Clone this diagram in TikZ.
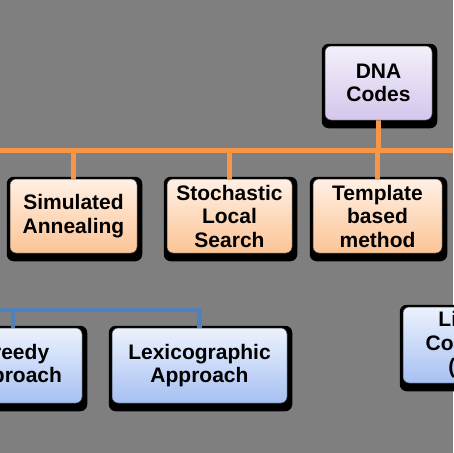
\documentclass[tikz,border=0pt]{standalone}
\usepackage{fontspec}
\setmainfont{Liberation Sans}
\pgfdeclarelayer{back}
\pgfdeclarelayer{mid}
\pgfsetlayers{back,mid,main}
\definecolor{bggray}{RGB}{127,127,127}
\definecolor{orline}{RGB}{247,150,70}
\definecolor{blline}{RGB}{79,129,189}
\definecolor{dnatop}{RGB}{243,239,250}
\definecolor{dnabot}{RGB}{212,198,236}
\definecolor{ortop}{RGB}{255,240,228}
\definecolor{orbot}{RGB}{252,196,150}
\definecolor{bltop}{RGB}{236,242,253}
\definecolor{blbot}{RGB}{166,192,242}
\begin{document}
\begin{tikzpicture}[x=1pt,y=-1pt,
  box/.style={rectangle, rounded corners=6pt, draw=black!75, line width=0.5pt,
    align=center, inner sep=0pt, font=\bfseries\fontsize{21}{23.5}\selectfont},
  dnabox/.style={box, top color=dnatop, bottom color=dnabot},
  orbox/.style={box, top color=ortop, bottom color=orbot},
  blbox/.style={box, top color=bltop, bottom color=blbot},
  orconn/.style={draw=orline, line width=5pt},
  blconn/.style={draw=blline, line width=4.5pt},
  shadowbox/.style={fill=black, rounded corners=7pt}]
\useasboundingbox (0,0) rectangle (453,453);
\node[dnabox, minimum width=107pt, minimum height=74pt] (dna) at (378.5,83) {DNA\\Codes};
\node[orbox, minimum width=127pt, minimum height=74pt] (sa) at (73.5,216) {Simulated\\Annealing};
\node[orbox, minimum width=125pt, minimum height=74pt] (sls) at (229.5,216) {Stochastic\\Local\\Search};
\node[orbox, minimum width=129pt, minimum height=74pt] (tbm) at (377.5,216) {Template\\based\\method};
\node[blbox, minimum width=138pt, minimum height=75pt] (ga) at (13,365.5) {Greedy\\Approach};
\node[blbox, minimum width=175pt, minimum height=75pt] (la) at (199.5,365.5) {Lexicographic\\Approach};
\node[blbox, minimum width=134pt, minimum height=76pt] (lc) at (470,345) {Linear\\Codes in\\(GF)};
\begin{pgfonlayer}{back}
  \fill[bggray] (0,0) rectangle (453,453);
  \foreach \n in {dna,sa,sls,tbm,ga,la,lc}
    \path[shadowbox] ([xshift=-3pt,yshift=2pt]\n.north west) rectangle ([xshift=5pt,yshift=-8pt]\n.south east);
\end{pgfonlayer}
\begin{pgfonlayer}{mid}
  \coordinate (ol) at (0,150);
  \coordinate (orr) at (453,150);
  \coordinate (bl) at (0,310);
  \draw[orconn] (ol) -- (orr);
  \draw[orconn] (dna.south) -- (dna.south |- ol);
  \draw[orconn] (sa.north) -- (sa.north |- ol);
  \draw[orconn] (sls.north) -- (sls.north |- ol);
  \draw[orconn] (tbm.north) -- (tbm.north |- ol);
  \draw[blconn] (bl) -| (la.north);
  \draw[blconn] (ga.north) -- (ga.north |- bl);
\end{pgfonlayer}
\end{tikzpicture}
\end{document}
